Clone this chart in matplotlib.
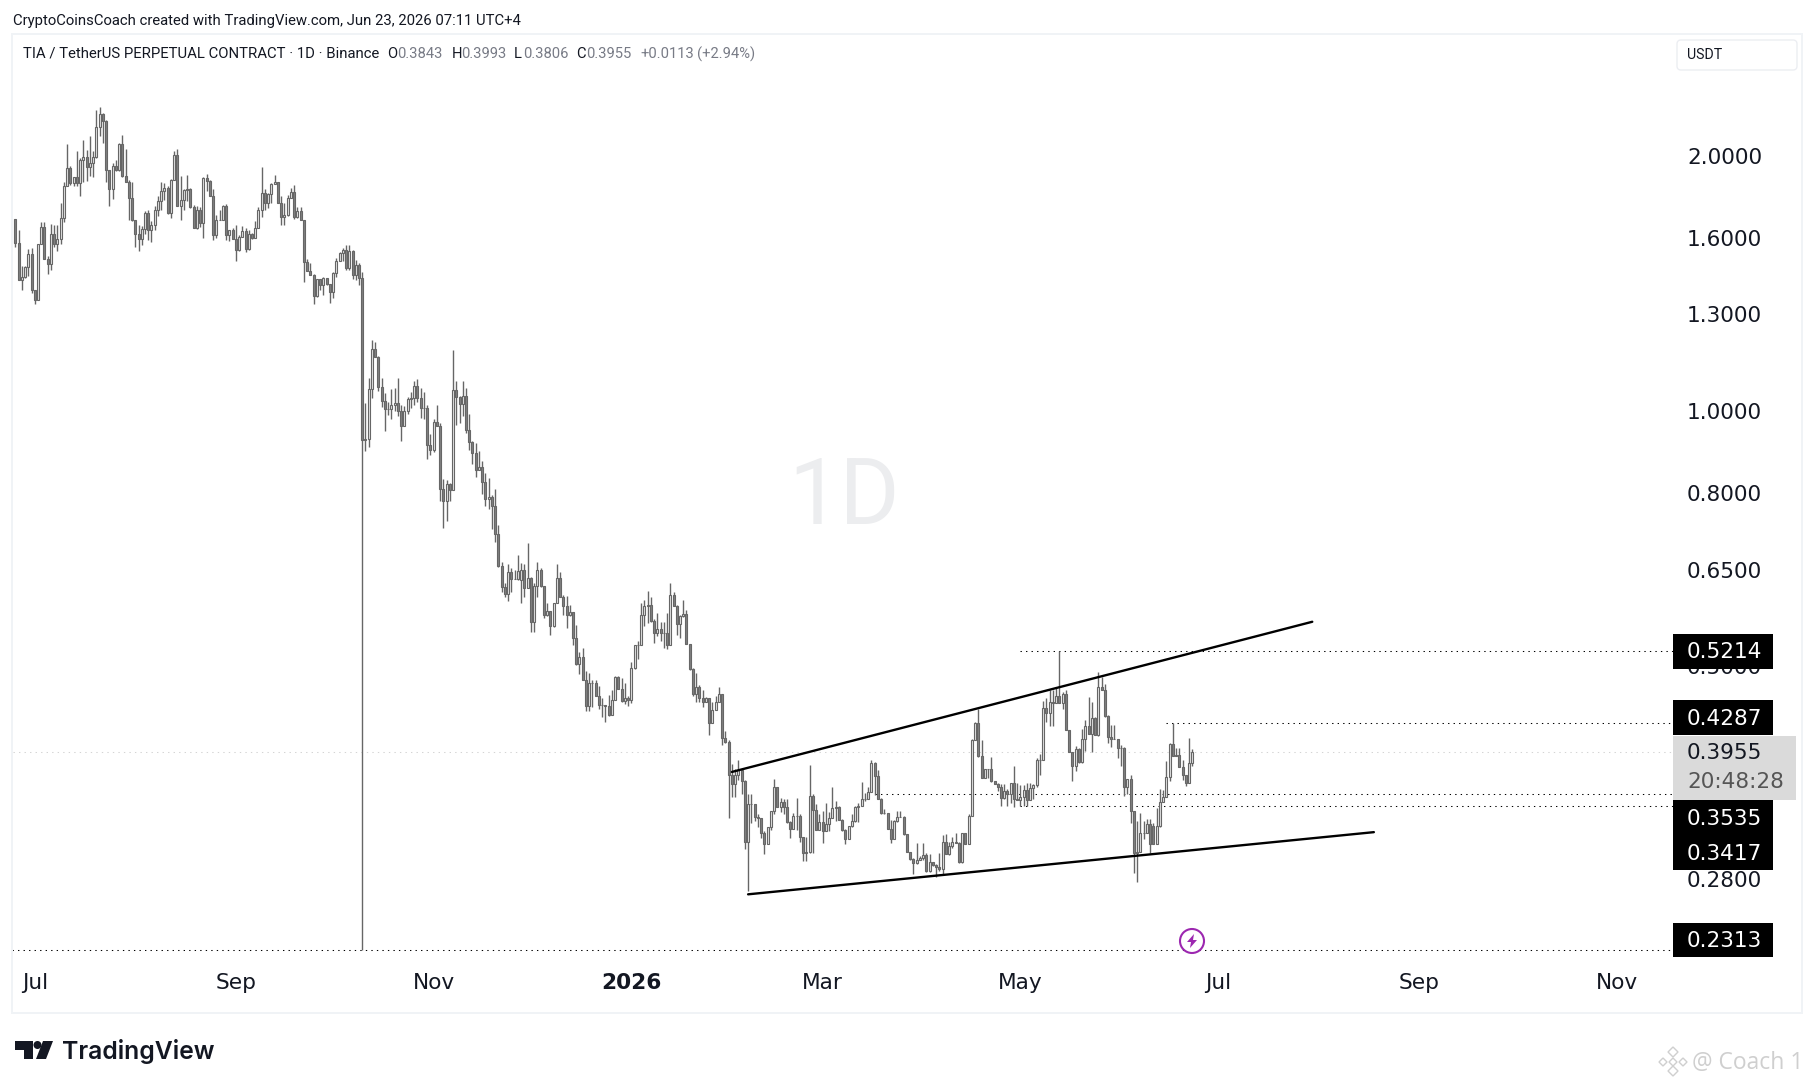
#!/usr/bin/env python
import matplotlib
matplotlib.use('Agg')
import matplotlib.pyplot as plt
import matplotlib.dates as mdates
from matplotlib.patches import Rectangle, FancyBboxPatch, Circle, Polygon
from matplotlib.transforms import Affine2D
import numpy as np
import pandas as pd

opens = [1.685,1.579,1.427,1.440,1.479,1.534,1.389,1.353,1.575,1.650,
1.512,1.492,1.618,1.575,1.596,1.690,1.843,1.935,1.858,1.887,
1.858,1.979,1.992,1.939,1.961,1.992,2.163,2.240,2.202,1.926,
1.827,1.944,1.924,2.065,1.892,1.863,1.784,1.680,1.618,1.596,
1.640,1.712,1.637,1.659,1.728,1.768,1.816,1.832,1.712,1.875,
2.004,1.744,1.773,1.824,1.829,1.741,1.644,1.728,1.667,1.884,
1.870,1.792,1.612,1.679,1.682,1.747,1.612,1.634,1.596,1.551,
1.605,1.631,1.554,1.618,1.600,1.644,1.728,1.808,1.760,1.803,
1.853,1.863,1.760,1.694,1.705,1.784,1.813,1.693,1.720,1.682,
1.500,1.462,1.447,1.366,1.430,1.408,1.436,1.411,1.381,1.456,
1.503,1.537,1.551,1.476,1.544,1.447,1.486,1.436,.925,.927,
1.061,1.182,1.159,1.067,1.029,1.005,1.005,1.017,1.021,1.001,
.961,1.001,1.033,1.036,1.070,1.036,1.008,1.008,.911,.900,
.970,.961,.809,.783,.821,.807,1.058,1.040,1.018,1.041,
.951,.919,.891,.852,.858,.825,.788,.792,.773,.716,
.656,.620,.609,.645,.633,.633,.631,.649,.618,.636,
.563,.621,.650,.621,.574,.581,.557,.593,.636,.604,
.589,.574,.579,.540,.503,.513,.481,.448,.478,.478,
.461,.450,.450,.449,.438,.456,.486,.470,.455,.459,
.456,.497,.529,.530,.574,.589,.590,.565,.547,.553,
.547,.547,.529,.607,.589,.560,.573,.576,.531,.496,
.463,.472,.458,.454,.459,.428,.444,.454,.463,.411,
.407,.372,.3625,.372,.377,.366,.310,.3435,.3435,.332,
.331,.318,.308,.323,.337,.360,.3405,.346,.341,.327,
.321,.333,.333,.314,.301,.3015,.3515,.3385,.320,.327,
.3195,.3255,.331,.340,.341,.329,.320,.3125,.3235,.328,
.341,.342,.348,.3485,.355,.384,.371,.3485,.335,.335,
.321,.3125,.328,.332,.332,.3165,.302,.296,.2925,.2955,
.297,.299,.2865,.2935,.291,.290,.288,.310,.300,.3065,
.31,.3095,.2935,.3175,.3085,.3325,.4095,.4285,.3915,.369,
.378,.3775,.3655,.363,.3595,.3495,.356,.353,.364,.348,
.3475,.350,.357,.3475,.3585,.3615,.387,.3878,.446,.440,
.4533,.4521,.4612,.4521,.4633,.42,.3956,.3809,.3991,.385,
.4101,.4244,.4157,.434,.4142,.473,.4679,.4361,.4124,.4101,
.4105,.4002,.4002,.3598,.368,.3372,.3012,.302,.3179,.3179,
.3258,.3237,.3086,.3237,.3455,.3505,.37,.4046,.392,.3924,
.3802,.3717,.364,.3843]
closes = [1.579,1.427,1.440,1.479,1.534,1.389,1.353,1.575,1.650,1.512,
1.492,1.618,1.575,1.596,1.690,1.843,1.935,1.858,1.887,1.858,
1.979,1.992,1.939,1.961,1.992,2.163,2.240,2.202,1.926,1.827,
1.944,1.924,2.065,1.892,1.863,1.784,1.680,1.618,1.596,1.640,
1.712,1.637,1.659,1.728,1.768,1.816,1.832,1.712,1.875,2.004,
1.744,1.773,1.824,1.829,1.741,1.644,1.728,1.667,1.884,1.870,
1.792,1.612,1.679,1.682,1.747,1.612,1.634,1.596,1.551,1.605,
1.631,1.554,1.618,1.600,1.644,1.728,1.808,1.760,1.803,1.853,
1.863,1.760,1.694,1.705,1.784,1.813,1.693,1.720,1.682,1.500,
1.462,1.447,1.366,1.430,1.408,1.436,1.411,1.381,1.456,1.503,
1.537,1.551,1.476,1.544,1.447,1.486,1.436,.925,.927,1.061,
1.182,1.159,1.067,1.029,1.005,1.005,1.017,1.021,1.001,.961,
1.001,1.033,1.036,1.070,1.036,1.008,1.008,.911,.900,.970,
.961,.809,.783,.821,.807,1.058,1.040,1.018,1.041,.951,
.919,.891,.852,.858,.825,.788,.792,.773,.716,.656,
.620,.609,.645,.633,.633,.648,.649,.618,.636,.563,
.621,.650,.621,.574,.581,.557,.593,.636,.604,.589,
.574,.579,.540,.503,.513,.481,.448,.478,.478,.461,
.450,.450,.449,.438,.456,.486,.470,.455,.459,.456,
.497,.529,.530,.574,.589,.590,.565,.547,.553,.547,
.547,.529,.607,.589,.560,.573,.576,.531,.496,.463,
.472,.458,.454,.459,.428,.444,.454,.463,.411,.407,
.372,.3625,.372,.377,.366,.310,.3435,.3435,.332,.331,
.318,.308,.323,.337,.360,.3405,.346,.341,.327,.321,
.333,.333,.314,.301,.3015,.3515,.3385,.320,.327,.3195,
.3255,.331,.340,.341,.329,.320,.3125,.3235,.328,.341,
.342,.348,.3485,.355,.384,.371,.3485,.335,.335,.321,
.3125,.328,.332,.332,.3165,.302,.296,.2925,.2955,.297,
.299,.2865,.2935,.291,.290,.288,.310,.300,.3065,.31,
.3095,.2935,.3175,.3085,.3325,.4095,.4285,.3915,.369,.378,
.3775,.3655,.363,.3595,.3495,.356,.353,.364,.348,.3475,
.350,.357,.3475,.3585,.3615,.387,.3878,.446,.440,.4533,
.4521,.4612,.4521,.4633,.42,.3956,.3809,.3991,.385,.4101,
.4244,.4157,.434,.4142,.473,.4679,.4361,.4124,.4101,.4105,
.4002,.4002,.3598,.368,.3372,.3012,.302,.3179,.3179,.3258,
.3086,.3086,.3237,.3455,.3505,.37,.4046,.392,.3924,.3802,
.3717,.364,.3843,.3955]
highs = [1.685,1.637,1.482,1.482,1.555,1.558,1.391,1.575,1.670,1.670,
1.523,1.662,1.659,1.659,1.760,1.861,2.065,1.944,1.889,2.025,
1.988,2.090,2.034,2.113,2.028,2.267,2.283,2.246,2.206,1.926,
1.961,1.979,2.071,2.118,2.038,1.872,1.863,1.682,1.659,1.652,
1.720,1.728,1.674,1.747,1.792,1.863,1.858,1.841,1.878,2.028,
2.038,1.895,1.829,1.900,1.832,1.752,1.744,1.741,1.887,1.905,
1.875,1.829,1.705,1.725,1.752,1.757,1.637,1.644,1.659,1.615,
1.652,1.644,1.637,1.622,1.674,1.741,1.941,1.829,1.808,1.858,
1.900,1.863,1.792,1.760,1.797,1.832,1.850,1.741,1.741,1.682,
1.513,1.496,1.450,1.433,1.423,1.439,1.436,1.411,1.459,1.516,
1.540,1.558,1.572,1.572,1.551,1.509,1.496,1.460,1.021,1.093,
1.213,1.206,1.161,1.093,1.050,1.024,1.062,1.064,1.093,1.017,
1.014,1.038,1.053,1.084,1.090,1.064,1.053,1.017,.940,.979,
1.017,.967,.832,.830,.823,1.180,1.085,1.042,1.084,1.064,
.992,.921,.917,.897,.873,.845,.834,.797,.810,.734,
.663,.626,.660,.652,.649,.676,.661,.660,.698,.637,
.626,.664,.652,.621,.593,.580,.594,.660,.646,.606,
.605,.591,.579,.559,.520,.525,.493,.491,.482,.481,
.474,.459,.450,.462,.469,.487,.487,.484,.478,.461,
.506,.530,.535,.593,.598,.613,.604,.568,.578,.564,
.564,.577,.626,.612,.591,.574,.599,.582,.531,.497,
.491,.475,.469,.460,.459,.453,.461,.473,.464,.419,
.409,.383,.378,.387,.372,.367,.353,.353,.3435,.3345,
.331,.319,.323,.3375,.368,.360,.3495,.3485,.348,.328,
.335,.3495,.3345,.3145,.3145,.382,.353,.3435,.3345,.3375,
.345,.336,.360,.3465,.342,.330,.321,.324,.3345,.342,
.345,.365,.354,.360,.387,.3855,.377,.3495,.339,.3345,
.329,.329,.3375,.3375,.333,.3165,.302,.2965,.3095,.2985,
.3095,.3005,.300,.2935,.292,.3005,.316,.3165,.310,.3145,
.3175,.31,.3175,.318,.3345,.410,.429,.445,.409,.3785,
.3785,.391,.366,.364,.3625,.3625,.358,.364,.381,.364,
.3615,.3615,.364,.364,.363,.389,.394,.455,.458,.4687,
.4687,.473,.5214,.4666,.4687,.4206,.3956,.402,.400,.4214,
.4322,.4595,.4541,.4353,.4926,.486,.4764,.438,.4263,.4263,
.4105,.4039,.4013,.368,.3724,.3372,.3282,.3356,.3282,.3296,
.3296,.3267,.3403,.3582,.3575,.386,.4057,.4287,.4002,.4002,
.3878,.3724,.4112,.3993]
lows = [1.562,1.427,1.389,1.434,1.443,1.379,1.336,1.353,1.575,1.512,
1.453,1.469,1.562,1.544,1.575,1.670,1.841,1.850,1.845,1.845,
1.792,1.861,1.866,1.895,1.887,1.988,2.109,2.071,1.861,1.744,
1.781,1.922,1.922,1.889,1.861,1.682,1.674,1.561,1.544,1.572,
1.618,1.593,1.582,1.637,1.700,1.725,1.776,1.709,1.690,1.875,
1.744,1.682,1.725,1.768,1.736,1.644,1.640,1.647,1.600,1.816,
1.792,1.590,1.600,1.679,1.682,1.590,1.586,1.596,1.503,1.544,
1.605,1.540,1.551,1.597,1.600,1.644,1.694,1.728,1.736,1.760,
1.853,1.760,1.656,1.659,1.700,1.784,1.687,1.690,1.679,1.420,
1.462,1.447,1.338,1.364,1.391,1.372,1.407,1.342,1.358,1.440,
1.503,1.503,1.469,1.469,1.433,1.427,1.408,.2313,.896,.906,
1.037,1.159,1.055,1.010,.948,.990,.979,.999,.987,.923,
.959,.992,1.008,1.017,1.026,.981,.979,.878,.888,.894,
.961,.784,.727,.741,.783,.807,.963,.967,.987,.943,
.900,.866,.836,.852,.799,.772,.767,.725,.701,.654,
.611,.603,.597,.612,.633,.631,.593,.603,.618,.548,
.548,.604,.620,.570,.573,.544,.556,.593,.603,.574,
.555,.573,.530,.502,.489,.481,.442,.442,.447,.461,
.445,.435,.430,.437,.438,.456,.470,.454,.451,.449,
.452,.496,.510,.529,.558,.562,.564,.532,.542,.535,
.525,.524,.529,.588,.544,.540,.572,.531,.495,.461,
.454,.453,.447,.453,.415,.428,.444,.453,.403,.406,
.331,.350,.350,.367,.353,.304,.2713,.326,.328,.323,
.313,.300,.308,.320,.3345,.3405,.336,.3345,.3265,.313,
.321,.320,.310,.294,.294,.301,.301,.320,.320,.309,
.319,.3195,.331,.328,.329,.3195,.308,.3125,.323,.3275,
.3275,.3415,.3465,.348,.355,.3525,.3485,.3345,.3345,.321,
.3095,.3125,.3275,.332,.316,.3015,.2955,.284,.292,.295,
.295,.2855,.286,.2905,.2815,.2865,.2835,.300,.299,.305,
.309,.293,.293,.3085,.3085,.3325,.4095,.391,.369,.369,
.369,.365,.3625,.356,.342,.3485,.342,.345,.3405,.347,
.342,.342,.342,.347,.348,.3595,.372,.3878,.430,.425,
.4244,.4521,.4521,.4448,.42,.3956,.3656,.3757,.3843,.3843,
.3966,.4157,.3956,.4142,.4138,.4679,.4353,.4057,.4013,.4101,
.3896,.3809,.3511,.3527,.3267,.2853,.2782,.302,.3122,.3173,
.3012,.3086,.3237,.3231,.3455,.3502,.3656,.392,.3913,.3799,
.3673,.3608,.364,.3806]

y_tick_values = [2.0, 1.6, 1.3, 1.0, 0.8, 0.65, 0.5, 0.34, 0.28]
x_tick_dates = ['2025-07-01','2025-09-01','2025-11-01','2026-01-01','2026-03-01',
                '2026-05-01','2026-07-01','2026-09-01','2026-11-01']
x_tick_labels = ['Jul','Sep','Nov','2026','Mar','May','Jul','Sep','Nov']

level_values = [0.5214, 0.4287, 0.3535, 0.3417, 0.2313]
level_starts = ['2026-05-01','2026-06-15','2026-03-17','2026-05-01','2025-06-24']
last_price = 0.3955

upper_dates = ['2026-02-01','2026-07-30']
upper_prices = [0.375, 0.564]
lower_dates = ['2026-02-06','2026-08-18']
lower_prices = [0.2689, 0.3184]

W, H = 1815, 1088
fig = plt.figure(figsize=(W/100, H/100), dpi=100, facecolor='white')
# pixel coordinates, origin top left
px = Affine2D().scale(1/W, -1/H).translate(0, 1) + fig.transFigure

ax = fig.add_axes([13/W, 1-1012/H, (1803-13)/W, (1012-34)/H])
ax.set_yscale('log')
ax.set_ylim(0.1953, 2.786)
ax.axis('off')

dates = pd.date_range(end='2026-06-23', periods=len(closes))
x = mdates.date2num(dates)
day_px = 3.2424
ax.set_xlim(x[-1]-(1192.3-13)/day_px, x[-1]+(1803-1192.3)/day_px)

o, c, h, l = map(np.array, (opens, closes, highs, lows))
up = c >= o

def num(d):
    return mdates.date2num(pd.Timestamp(d))

right_edge = x[-1]+(1673-1192.3)/day_px
for val, st in zip(level_values, level_starts):
    ax.plot([num(st), right_edge], [val, val], color='black', lw=.75, ls=(0, (1.3, 4)), zorder=1)
ax.plot([ax.get_xlim()[0], right_edge], [last_price, last_price], color='#d4d4d4', lw=.75, ls=(0, (1.3, 4)), zorder=1)

ax.vlines(x, l, h, color='#666666', lw=1.0, zorder=2)
ax.bar(x[up], (c-o)[up], bottom=o[up], width=0.62, facecolor='#e4e4e4', edgecolor='#666666', lw=.8, zorder=3)
ax.bar(x[~up], (o-c)[~up], bottom=c[~up], width=0.62, facecolor='#808080', edgecolor='#666666', lw=.8, zorder=3)

ax.plot([num(d) for d in upper_dates], upper_prices, color='black', lw=1.7, zorder=4, solid_capstyle='round')
ax.plot([num(d) for d in lower_dates], lower_prices, color='black', lw=1.7, zorder=4, solid_capstyle='round')

fig.text(844/W, 1-499/H, '1D', fontsize=66, family='Roboto', color='#ecedef', ha='center', va='center', zorder=0.5)

# frame
fig.add_artist(Rectangle((12.5, 33.5), 1790, 979, transform=px, fill=False, ec='#f0f3f6', lw=1.4))

def price_y(v):
    return H - ax.transData.transform((0, v))[1]

# price axis
txt = '#131722'
for v in y_tick_values:
    fig.text(1687/W, 1-(price_y(v)+2)/H, '%.4f' % v, fontsize=15.6, color=txt, va='center', zorder=2)

def label_box(y0, y1, right=1773, color='black'):
    fig.add_artist(Rectangle((1673, y0), right-1673, y1-y0, transform=px, fc=color, ec='none', zorder=3))

label_box(634, 669)
label_box(700, 735)
label_box(736, 800, right=1796, color='#dadada')
label_box(800, 870)
label_box(923, 957)
for v, yy in zip(level_values, [652, 719, 819, 854, 941]):
    fig.text(1687/W, 1-yy/H, '%.4f' % v, fontsize=15.6, color='white', va='center', zorder=4)
fig.text(1687/W, 1-753/H, '%.4f' % last_price, fontsize=15.6, color=txt, va='center', zorder=4)
fig.text(1687/W, 1-782/H, '20:48:28', fontsize=15.6, color='#555555', va='center', zorder=4)

# time axis
for d, lab in zip(x_tick_dates, x_tick_labels):
    xp = ax.transData.transform((num(d), 1))[0]
    fig.text(xp/W, 1-983/H, lab, fontsize=15.6, color=txt, ha='center', va='center', fontweight='bold' if lab == '2026' else 'normal')

# header
hf = 'Roboto'
fig.text(13/W, 1-21/H, 'CryptoCoinsCoach created with TradingView.com, Jun 23, 2026 07:11 UTC+4', fontsize=10.75, family=hf, color='#131722', va='center')
fig.text(23/W, 1-54/H, 'TIA / TetherUS PERPETUAL CONTRACT · 1D · Binance', fontsize=10.7, family=hf, color='#131722', va='center')
for xp, s, col in [(387, 'O', '#131722'), (397, '0.3843', '#787b86'), (452, 'H', '#131722'), (461, '0.3993', '#787b86'),
                   (514, 'L', '#131722'), (523, '0.3806', '#787b86'), (576, 'C', '#131722'), (586, '0.3955', '#787b86'),
                   (640, '+0.0113', '#787b86'), (697, '(+2.94%)', '#787b86')]:
    fig.text(xp/W, 1-54/H, s, fontsize=10.6, family=hf, color=col, va='center')

# currency button
fig.add_artist(FancyBboxPatch((1677, 40), 120, 30, boxstyle='round,pad=0,rounding_size=4', transform=px, fc='white', ec='#eceef2', lw=1))
fig.text(1705/W, 1-55/H, 'USDT', fontsize=10.2, family=hf, color='#131722', ha='center', va='center')

# lightning badge
fig.add_artist(Circle((1192, 941), 12, transform=px, fc='white', ec='#9c27b0', lw=1.5, zorder=5))
fig.add_artist(Polygon([(1194, 934), (1187, 942), (1191, 942), (1190, 948), (1197, 940), (1193, 940)], closed=True, transform=px, fc='#9c27b0', ec='none', zorder=6))

# TradingView logo
logo = '#131722'
fig.add_artist(Polygon([(15, 1041), (33, 1041), (33, 1059), (24, 1059), (24, 1050), (15, 1050)], closed=True, transform=px, fc=logo, ec='none'))
fig.add_artist(Circle((37.5, 1045), 4, transform=px, fc=logo, ec='none'))
fig.add_artist(Polygon([(43, 1041), (53, 1041), (46, 1059), (36, 1059)], closed=True, transform=px, fc=logo, ec='none'))
fig.text(62/W, 1-1051/H, 'TradingView', fontsize=17.8, family='Inter', fontweight='semibold', color=logo, va='center')

# watermark
wm = '#cfcfcf'
for cx, cy, r in [(1673, 1052, 5), (1673, 1071, 5), (1663, 1062, 4), (1683, 1062, 4), (1673, 1062, 4)]:
    fig.add_artist(Polygon([(cx, cy-r), (cx+r, cy), (cx, cy+r), (cx-r, cy)], closed=True, transform=px, fc='white', ec=wm, lw=1))
fig.text(1692/W, 1-1063/H, '@ Coach 1', fontsize=16.5, family='Open Sans', color=wm, va='center')

fig.savefig('out.png', dpi=100)
